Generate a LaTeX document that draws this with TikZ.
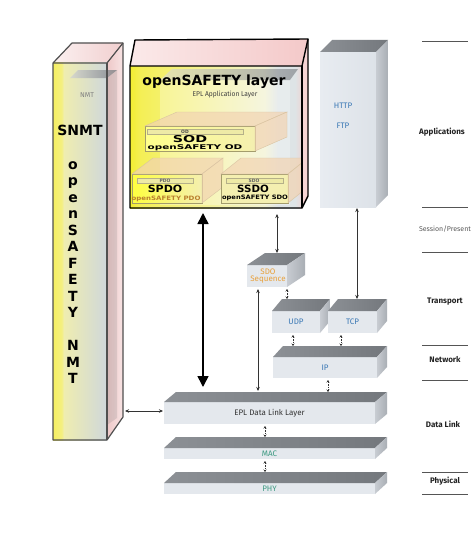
\documentclass[tikz,border=0pt]{standalone}
\usepackage{fontspec}
\setmainfont{DejaVu Sans}
\newfontfamily\fira{Fira Sans}
\usetikzlibrary{arrows.meta,calc}
\definecolor{gfront}{HTML}{E4E8ED}
\definecolor{gtopA}{HTML}{8C9095}
\definecolor{gtopB}{HTML}{74787D}
\definecolor{gsideA}{HTML}{C8CCD2}
\definecolor{gsideB}{HTML}{A9AEB4}
\definecolor{hfrontA}{HTML}{E8ECF1}
\definecolor{hfrontB}{HTML}{DDE2E8}
\definecolor{nmtline}{HTML}{505050}
\definecolor{nmtsideA}{HTML}{EEC8C8}
\definecolor{nmtsideB}{HTML}{F8E4E4}
\definecolor{nmttopA}{HTML}{FBF0F0}
\definecolor{nmttopB}{HTML}{F1CFCF}
\definecolor{ospink}{HTML}{F4C9C9}
\definecolor{peach}{HTML}{F2D3B2}
\definecolor{peachline}{HTML}{D9C4A2}
\definecolor{inline}{HTML}{A39C6C}
\definecolor{cream}{HTML}{F4EFB0}
\definecolor{barfill}{HTML}{EEEAA6}
\definecolor{blutxt}{HTML}{3A78B5}
\definecolor{orgtxt}{HTML}{E8A03A}
\definecolor{teal}{HTML}{3E9A82}
\definecolor{labtxt}{HTML}{222222}
\definecolor{labline}{HTML}{555555}
\definecolor{arr}{HTML}{333333}
\definecolor{nmA}{HTML}{F5EF60}
\definecolor{nmB}{HTML}{F4EF80}
\definecolor{nmC}{HTML}{EFEDB0}
\definecolor{nmD}{HTML}{CFD7DB}
\pgfdeclarehorizontalshading{nmtfront}{100bp}{color(0bp)=(nmA); color(25bp)=(nmA); color(33bp)=(nmB); color(35bp)=(nmC); color(75bp)=(nmD); color(100bp)=(nmD)}
\definecolor{osA}{HTML}{F3EE30}
\definecolor{osB}{HTML}{F4EF55}
\definecolor{osC}{HTML}{F5F290}
\definecolor{osD}{HTML}{F2F2D0}
\definecolor{osE}{HTML}{DEE4E6}
\definecolor{osF}{HTML}{EDD5D5}
\pgfdeclarehorizontalshading{osfront}{100bp}{color(0bp)=(osA); color(25bp)=(osA); color(28bp)=(osB); color(45bp)=(osC); color(64bp)=(osD); color(68bp)=(osE); color(73bp)=(osE); color(75bp)=(osF); color(100bp)=(osF)}
\newcommand\cubefaces[5]{%
  \path[#4] (#1.north west) -- ++(#2,#3) -- ($(#1.north east)+(#2,#3)$) -- (#1.north east) -- cycle;
  \path[#5] (#1.north east) -- ++(#2,#3) -- ($(#1.south east)+(#2,#3)$) -- (#1.south east) -- cycle;
}
\begin{document}
\begin{tikzpicture}[x=1pt,y=-1pt,
  every node/.style={inner sep=0pt, outer sep=0pt},
  face/.style={anchor=north west, inner sep=0pt, outer sep=0pt},
  gbox/.style={face, fill=gfront},
  gtopst/.style={shade, left color=gtopA, right color=gtopB},
  gsidest/.style={shade, left color=gsideA, right color=gsideB},
  ptop/.style={fill=peach, fill opacity=0.7, draw=peachline, line width=0.4pt},
  infront/.style={face, draw=inline, line width=0.5pt},
  bar/.style={fill=barfill, draw=inline!80, line width=0.4pt},
  gtxt/.style={font=\fira\fontsize{8}{9}\selectfont},
  lab/.style={font=\fira\fontsize{8}{9}\selectfont\bfseries, text=labtxt},
  labline/.style={draw=labline, line width=0.8pt},
  thin/.style={draw=arr, line width=0.6pt, {Stealth[length=4pt,width=3.5pt]}-{Stealth[length=4pt,width=3.5pt]}},
  dots/.style={draw=arr, line width=1pt, dash pattern=on 1.5pt off 1pt, {Stealth[length=2.5pt,width=3pt]}-{Stealth[length=2.5pt,width=3pt]}},
  big/.style={draw=black, line width=1.6pt, {Triangle[length=11pt,width=11pt]}-{Triangle[length=11pt,width=11pt]}}
]
\useasboundingbox[fill=white] (0,0) rectangle (474,543);

% ---------------- NMT column ----------------
\shade[left color=nmtsideA, right color=nmtsideB] (107,63) -- (123,43) -- (123,417) -- (107,440) -- cycle;
\shade[left color=nmttopA, right color=nmttopB] (53,63) -- (72,43) -- (123,43) -- (107,63) -- cycle;
\node[face, minimum width=54pt, minimum height=377pt, shade, shading=nmtfront] (nmt) at (53,63) {};
\fill[gray, opacity=0.22] (107,78) -- (117,70) -- (117,418) -- (107,425) -- cycle;
\shade[left color=gtopA!40!white, right color=gtopB, opacity=0.75] (70,78) -- (78,70) -- (117,70) -- (107,78) -- cycle;
\draw[nmtline, line width=1.2pt, line join=round] (nmt.north west) -- (72,43) -- (123,43) -- (123,417) -- (nmt.south east) -- (nmt.south west) -- cycle;
\draw[nmtline, line width=1.2pt] (nmt.north west) -- (nmt.north east) -- (123,43);
\draw[nmtline, line width=1.2pt] (nmt.north east) -- (nmt.south east);
\node[font=\fira\fontsize{7}{8}\selectfont, text=gray] (nmtsmall) at (87,95) {NMT};
\node[font=\bfseries\fontsize{14}{16}\selectfont] (snmt) at (80,130) {SNMT};
\foreach \l [count=\i] in {o,p,e,n,S,A,F,E,T,Y,{},N,M,T}
  \node[anchor=base, font=\bfseries\fontsize{14}{16}\selectfont] (v\i) at (73,{169+16.5*(\i-1)}) {\l};

% ---------------- openSAFETY box ----------------
\shade[left color=ospink!40!white, right color=ospink] (130,66) -- (135,40) -- (308,39) -- (302,66) -- cycle;
\fill[ospink!80] (302,66) -- (308,39) -- (308,196) -- (302,208) -- cycle;
\node[face, minimum width=172pt, minimum height=142pt, shade, shading=osfront] (os) at (130,66) {};
\fill[white, opacity=0.3] (160,80) rectangle (290,205);
\shade[left color=gtopA!30!white, right color=gtopB, opacity=0.6] (160,80) -- (172,69) -- (298,69) -- (290,80) -- cycle;
\node[font=\bfseries\fontsize{14}{16}\selectfont] (oslayer) at (214,82) {openSAFETY layer};
\node[font=\fira\fontsize{7}{8}\selectfont, xscale=0.95, text=black!75] (epl) at (225,95) {EPL Application Layer};

% SOD
\node[infront, minimum width=110pt, minimum height=25pt, shade, left color=yellow!45!white, right color=cream] (sod) at (145,126) {};
\cubefaces{sod}{32}{-14}{ptop}{ptop}
\draw[bar] (147,129) rectangle (243,134);
\node[font=\bfseries\fontsize{4.5}{5}\selectfont, text=black!70] (odl) at (185,131.5) {OD};
\node[font=\bfseries\fontsize{9.5}{10}\selectfont, xscale=1.5] (sodt) at (190,139) {SOD};
\node[font=\bfseries\fontsize{6.5}{7}\selectfont, xscale=1.6] (sodo) at (195,147.5) {openSAFETY OD};

% SPDO and SSDO
\begin{scope}
\clip (os.north west) rectangle (os.south east);
\node[infront, minimum width=70pt, minimum height=29pt, shade, left color=yellow!75!white, right color=cream] (spdo) at (132,174) {};
\cubefaces{spdo}{21}{-16}{ptop}{ptop}
\node[infront, minimum width=67pt, minimum height=29pt, fill=cream] (ssdo) at (221,174) {};
\cubefaces{ssdo}{20}{-16}{ptop}{ptop}
\end{scope}
\draw[bar] (137,178) rectangle (193,183);
\node[font=\bfseries\fontsize{4.5}{5}\selectfont, text=black!60] (pdol) at (165,180.5) {PDO};
\node[font=\bfseries\fontsize{10}{11}\selectfont, xscale=1.1] (spdot) at (165,189) {SPDO};
\node[font=\bfseries\fontsize{6}{7}\selectfont, xscale=1.17, text=orgtxt!80!black] (spdoo) at (166,199) {openSAFETY PDO};
\draw[bar] (226,178) rectangle (283,183);
\node[font=\bfseries\fontsize{4.5}{5}\selectfont, text=black!60] (sdol) at (254,180.5) {SDO};
\node[font=\bfseries\fontsize{10}{11}\selectfont, xscale=1.03] (ssdot) at (253,189) {SSDO};
\node[font=\bfseries\fontsize{6}{7}\selectfont, xscale=1.12] (ssdoo) at (255,198) {openSAFETY SDO};

\draw[line width=1.4pt, line join=round] (os.north west) -- (135,40) -- (308,39) -- (308,196) -- (os.south east) -- (os.south west) -- cycle;
\draw[line width=1.4pt] (os.north west) -- (os.north east) -- (308,39);
\draw[line width=1.4pt] (os.north east) -- (os.south east);

% ---------------- grey stack ----------------
\node[face, minimum width=56pt, minimum height=155pt, shade, left color=hfrontA, right color=hfrontB] (http) at (320,52) {};
\cubefaces{http}{12}{-12}{gtopst}{gsidest}
\node[gtxt, text=blutxt] (httpt) at (343,106) {HTTP};
\node[gtxt, text=blutxt] (ftpt) at (343,126) {FTP};

\node[gbox, minimum width=40pt, minimum height=22pt] (sdoseq) at (247,265) {};
\cubefaces{sdoseq}{18}{-12}{gtopst}{gsidest}
\node[gtxt, text=orgtxt, align=center] (sdoseqt) at (268,276) {SDO\\[-1.5pt]Sequence};

\node[gbox, minimum width=48pt, minimum height=22pt, gtxt, text=blutxt] (udp) at (272,311) {UDP};
\cubefaces{udp}{10}{-12}{gtopst}{gsidest}
\node[gbox, minimum width=49pt, minimum height=22pt, gtxt, text=blutxt] (tcp) at (328,311) {TCP};
\cubefaces{tcp}{10}{-12}{gtopst}{gsidest}
\node[gbox, minimum width=104pt, minimum height=21pt, gtxt, text=blutxt] (ip) at (273,357) {IP};
\cubefaces{ip}{10}{-11}{gtopst}{gsidest}
\node[gbox, minimum width=211pt, minimum height=22pt, gtxt, text=black!80] (epll) at (164,402) {EPL Data Link Layer};
\cubefaces{epll}{12}{-10}{gtopst}{gsidest}
\node[gbox, minimum width=211pt, minimum height=11pt, gtxt, text=teal] (mac) at (164,448) {MAC};
\cubefaces{mac}{12}{-11}{gtopst}{gsidest}
\node[gbox, minimum width=211pt, minimum height=11pt, gtxt, text=teal] (phy) at (164,483) {PHY};
\cubefaces{phy}{12}{-11}{gtopst}{gsidest}

% ---------------- connectors ----------------
\draw[big] ([xshift=73pt,yshift=-5pt]os.south west) -- ([xshift=39pt,yshift=15pt]epll.north west);
\draw[thin] ([xshift=147pt,yshift=-6pt]os.south west) -- ([xshift=30pt,yshift=12pt]sdoseq.north west);
\draw[thin] ([xshift=37pt,yshift=-1pt]http.south west) -- ([xshift=29pt,yshift=12pt]tcp.north west);
\draw[thin] ([xshift=11pt,yshift=-2pt]sdoseq.south west) -- ([xshift=94pt,yshift=11pt]epll.north west);
\draw[dots] ([xshift=0pt,yshift=-2pt]sdoseq.south east) -- ([xshift=15pt,yshift=12pt]udp.north west);
\draw[dots] ([xshift=21pt,yshift=-2pt]udp.south west) -- ([xshift=20pt,yshift=11pt]ip.north west);
\draw[dots] ([xshift=13pt,yshift=-2pt]tcp.south west) -- ([xshift=68pt,yshift=11pt]ip.north west);
\draw[dots] ([xshift=55pt,yshift=-2pt]ip.south west) -- ([xshift=164pt,yshift=10pt]epll.north west);
\draw[dots] ([xshift=101pt,yshift=-2pt]epll.south west) -- ([xshift=101pt,yshift=11pt]mac.north west);
\draw[dots] ([xshift=101pt,yshift=-2pt]mac.south west) -- ([xshift=101pt,yshift=11pt]phy.north west);
\draw[thin] ([xshift=18pt,yshift=29pt]nmt.south east) -- ([xshift=-1pt,yshift=2pt]epll.west);

% ---------------- layer labels ----------------
\foreach \yy in {41,207,252,345,380,472,494}
  \draw[labline] (422,\yy) -- (468,\yy);
\node[lab] (lapp) at (442,132) {Applications};
\node[font=\fira\fontsize{7}{8}\selectfont, text=black!65] (lses) at (445,229) {Session/Present};
\node[lab] (ltra) at (445,302) {Transport};
\node[lab] (lnet) at (445,360) {Network};
\node[lab] (ldl) at (443,424) {Data Link};
\node[lab] (lphy) at (445,481) {Physical};
\end{tikzpicture}
\end{document}
